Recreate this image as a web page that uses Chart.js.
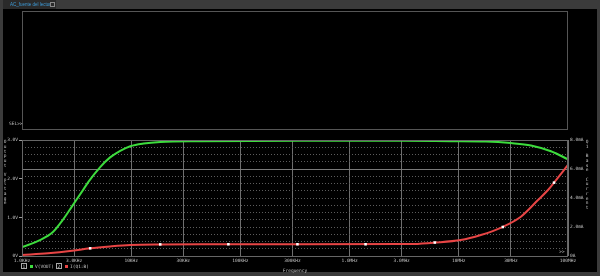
<!DOCTYPE html>
<html>
<head>
<meta charset="utf-8">
<script src="https://cdn.jsdelivr.net/npm/chart.js@4/dist/chart.umd.min.js"></script>
<style>
  html, body { margin: 0; padding: 0; background: #3b3b3b; }
  #wrap { width: 600px; height: 276px; }
</style>
</head>
<body>
<div id="wrap"><canvas id="myChart" width="600" height="276"></canvas></div>
<script>
/* globals Chart */

// x axis (log frequency)
const freqTicks = [1e3, 3e3, 1e4, 3e4, 1e5, 3e5, 1e6, 3e6, 1e7, 3e7, 1e8];
const freqLabels = ["1.0KHz", "3.0KHz", "10KHz", "30KHz", "100KHz", "300KHz",
  "1.0MHz", "3.0MHz", "10MHz", "30MHz", "100MHz"];

// left axis: V(VOUT)
const voltTicks = [0, 1, 2, 3];
const voltLabels = ["0V", "1.0V", "2.0V", "3.0V"];
const voutFreq = [1000, 1460, 1920, 2330, 2880, 3630, 4040, 5200, 6410, 7930, 9800,
  13000, 18450, 42950, 354800, 2.94e6, 8.45e6, 1.77e7, 3.0e7, 4.58e7, 6.98e7, 1e8];
const voutVolts = [0.23, 0.41, 0.62, 0.91, 1.29, 1.71, 1.91, 2.30, 2.55, 2.72, 2.84,
  2.91, 2.95, 2.97, 2.98, 2.98, 2.97, 2.96, 2.92, 2.86, 2.71, 2.50];

// right axis: I(Q1:B) in mA
const ampTicks = [0, 2, 4, 6, 8];
const ampLabels = ["0A", "2.0mA", "4.0mA", "6.0mA", "8.0mA"];
const ibFreq = [1000, 1730, 2750, 4210, 6410, 9800, 18450, 42950, 354800, 2.94e6,
  3.87e6, 5.9e6, 1.04e7, 1.59e7, 2.48e7, 3.7e7, 5.31e7, 6.56e7, 7.45e7, 1e8];
const ibMilliamps = [0.07, 0.19, 0.34, 0.53, 0.66, 0.76, 0.80, 0.81, 0.81, 0.82,
  0.83, 0.92, 1.10, 1.45, 1.98, 2.71, 3.86, 4.55, 5.06, 6.28];

// white square symbols on the I(Q1:B) trace
const markFreq = [4210, 18450, 77600, 333000, 1.4e6, 6.03e6, 2.53e7, 7.45e7];
const markMilliamps = [0.53, 0.80, 0.81, 0.81, 0.81, 0.93, 2.0, 5.06];

const FONT = "'DejaVu Sans Mono', monospace";
const TXT = "#c4c4c4";

const toPoints = (xs, ys) => xs.map((x, i) => ({ x, y: ys[i] }));

const frame = {
  id: "frame",
  beforeDraw(chart) {
    const c = chart.ctx;
    c.save();
    c.fillStyle = "#3b3b3b";
    c.fillRect(0, 0, 600, 276);
    c.fillStyle = "#000";
    c.fillRect(3, 9, 594, 263);
    // tab
    c.fillStyle = "#2a2a2a";
    c.fillRect(3, 0, 53, 9);
    c.fillStyle = "#3d9ad6";
    c.font = "4.5px 'Liberation Sans'";
    c.textBaseline = "middle";
    c.fillText("AC_fuente del lector", 10, 5);
    c.strokeStyle = "#888";
    c.lineWidth = 1;
    c.strokeRect(50.5, 2.5, 4, 4);
    // upper (empty) plot
    c.strokeStyle = "#555";
    c.strokeRect(22.5, 11.5, 545, 118);
    c.fillStyle = TXT;
    c.font = "4.5px " + FONT;
    c.fillText("SEL>>", 9, 124);
    c.restore();
  },
  afterDraw(chart) {
    const c = chart.ctx;
    const a = chart.chartArea;
    c.save();
    c.strokeStyle = "#666";
    c.lineWidth = 1;
    c.strokeRect(a.left + 0.5, a.top + 0.5, a.right - a.left - 1, a.bottom - a.top);
    c.fillStyle = TXT;
    c.font = "4.5px " + FONT;
    c.textAlign = "center";
    c.textBaseline = "middle";
    // stacked axis titles
    const stack = (txt, x, y0) => {
      [...txt].forEach((ch, i) => c.fillText(ch, x, y0 + i * 4.7));
    };
    stack("Output Voltage", 5, 142);
    stack("Q1 Base Current", 587, 142);
    c.fillText("Frequency", (a.left + a.right) / 2, 271);
    c.fillText(">>", 562, 252);
    // legend
    c.textAlign = "left";
    c.strokeStyle = "#aaa";
    c.strokeRect(21.5, 263.5, 5, 5);
    c.fillText("1", 22.5, 266.5);
    c.fillStyle = "#3ddc3d";
    c.fillRect(30, 265, 3, 3);
    c.fillStyle = TXT;
    c.fillText("V(VOUT)", 35, 266.5);
    c.strokeRect(56.5, 263.5, 5, 5);
    c.fillText("2", 57.5, 266.5);
    c.fillStyle = "#e84545";
    c.fillRect(65, 265, 3, 3);
    c.fillStyle = TXT;
    c.fillText("I(Q1:B)", 70, 266.5);
    c.restore();
  },
};

const ctx = document.getElementById("myChart").getContext("2d");

/* exported myChart */
const myChart = new Chart(ctx, {
  type: "line",
  plugins: [frame],
  data: {
    datasets: [
      {
        label: "V(VOUT)",
        data: toPoints(voutFreq, voutVolts),
        yAxisID: "y",
        order: 2,
        borderColor: "#3ddc3d",
        borderWidth: 2,
        pointRadius: 0,
        cubicInterpolationMode: "monotone",
      },
      {
        label: "I(Q1:B)",
        data: toPoints(ibFreq, ibMilliamps),
        yAxisID: "y1",
        order: 2,
        borderColor: "#e84545",
        borderWidth: 2,
        pointRadius: 0,
        cubicInterpolationMode: "monotone",
      },
      {
        label: "marks",
        data: toPoints(markFreq, markMilliamps),
        yAxisID: "y1",
        order: 0,
        showLine: false,
        pointStyle: "rect",
        pointRadius: 1.8,
        pointBackgroundColor: "#fff",
        pointBorderColor: "#fff",
        pointBorderWidth: 0,
      },
    ],
  },
  options: {
    responsive: false,
    animation: false,
    events: [],
    layout: { padding: { top: 140, left: 0, right: 0, bottom: 0 } },
    plugins: {
      legend: { display: false },
      title: { display: false },
      tooltip: { enabled: false },
    },
    scales: {
      x: {
        type: "logarithmic",
        min: 1e3,
        max: 1e8,
        afterBuildTicks: (s) => { s.ticks = freqTicks.map((v) => ({ value: v })); },
        afterFit: (s) => { s.height = 20; },
        ticks: {
          autoSkip: false,
          maxRotation: 0,
          padding: 2,
          color: TXT,
          font: { family: FONT, size: 4.5 },
          callback: (v, i) => freqLabels[i],
        },
        grid: { color: "#6e6e6e", drawTicks: false, lineWidth: 1 },
        border: { display: false },
      },
      y: {
        position: "left",
        min: 0,
        max: 3,
        afterBuildTicks: (s) => { s.ticks = voltTicks.map((v) => ({ value: v })); },
        afterFit: (s) => { s.width = 22; },
        ticks: {
          padding: 1,
          color: TXT,
          font: { family: FONT, size: 4.5 },
          callback: (v, i) => voltLabels[i],
        },
        grid: { drawOnChartArea: false, tickLength: 3, tickColor: "#999" },
        border: { display: false },
      },
      y1: {
        position: "right",
        min: 0,
        max: 8,
        afterBuildTicks: (s) => {
          const t = [];
          for (let k = 0; k <= 16; k++) t.push({ value: k * 0.5 });
          s.ticks = t;
        },
        afterFit: (s) => { s.width = 32; },
        ticks: {
          autoSkip: false,
          padding: 2,
          color: TXT,
          font: { family: FONT, size: 4.5 },
          callback: (v) => {
            const i = ampTicks.indexOf(v);
            return i >= 0 ? ampLabels[i] : "";
          },
        },
        grid: {
          drawTicks: false,
          color: (c) => (c.tick && c.tick.value === 6 ? "#7a7a7a" : "#5c5c5c"),
          lineWidth: 1,
        },
        border: {
          display: false,
          dash: (c) => (c.tick && c.tick.value === 6 ? [] : [1, 2]),
        },
      },
    },
  },
});
</script>
</body>
</html>
